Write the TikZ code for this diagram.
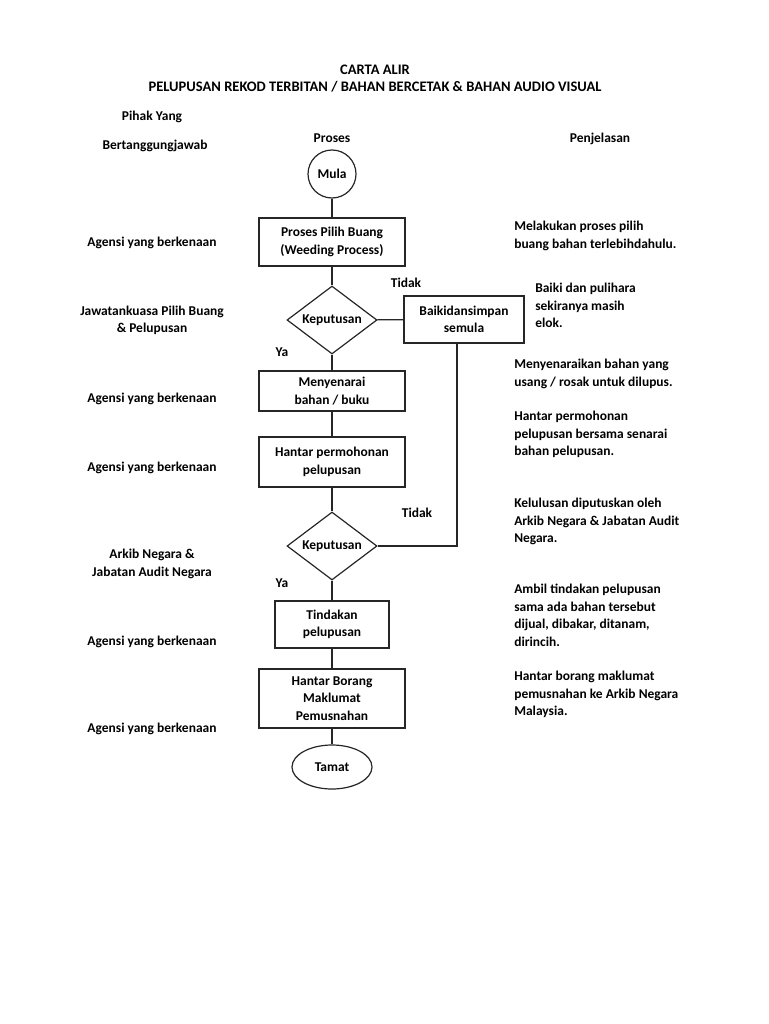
\documentclass[tikz,border=0pt]{standalone}
\usepackage{fontspec}
\setmainfont{Carlito}
\usetikzlibrary{shapes.geometric}
\begin{document}
\begin{tikzpicture}[x=0.75pt,y=-0.75pt,
  every node/.style={font=\fontsize{10.1pt}{13.1pt}\selectfont\bfseries, inner sep=0pt},
  title/.style={font=\fontsize{10.9pt}{13.1pt}\selectfont\bfseries},
  line/.style={draw=black!85, line width=0.9pt},
  procbox/.style={line, rectangle, minimum width=146*0.75pt, align=center},
  decision/.style={line, diamond, aspect=1.32, minimum width=90*0.75pt, minimum height=68*0.75pt, inner sep=0pt},
  lbl/.style={align=center},
  desc/.style={align=left, anchor=north west}]
\useasboundingbox (0,0) rectangle (768,1024);
% titles
\node[title] (t1) at (375,70) {CARTA ALIR};
\node[title] (t2) at (375,87) {PELUPUSAN REKOD TERBITAN / BAHAN BERCETAK \& BAHAN AUDIO VISUAL};
\node (h1) at (152,117) {Pihak Yang};
\node (h2) at (155,146) {Bertanggungjawab};
\node (h3) at (332,138) {Proses};
\node (h4) at (600,139) {Penjelasan};
% flow
\node[line, circle, minimum size=48*0.75pt] (mula) at (332,174) {Mula};
\node[procbox, minimum height=48*0.75pt] (b1) at (332,242) {Proses Pilih Buang\\(Weeding Process)};
\node[decision] (d1) at (332,320) {Keputusan};
\node[line, rectangle, minimum width=120*0.75pt, minimum height=47*0.75pt, align=center] (baiki) at (464,319.5) {Baikidansimpan\\semula};
\node[procbox, minimum height=40*0.75pt] (b2) at (332,391) {Menyenarai\\bahan / buku};
\node[procbox, minimum height=50*0.75pt] (b3) at (332,462) {Hantar permohonan\\pelupusan};
\node[decision] (d2) at (332,546) {Keputusan};
\node[line, rectangle, minimum width=114*0.75pt, minimum height=47*0.75pt, align=center] (b4) at (332,624.5) {Tindakan\\pelupusan};
\node[procbox, minimum height=59*0.75pt] (b5) at (332,698.5) {Hantar Borang\\Maklumat\\Pemusnahan};
\node[line, ellipse, minimum width=80*0.75pt, minimum height=44*0.75pt] (tamat) at (332,767) {Tamat};
\coordinate (c1) at (457,546);
% connectors
\draw[line] (mula) -- (b1);
\draw[line] (b1) -- (d1);
\draw[line] (d1) -- (baiki);
\draw[line] (d1) -- (b2);
\draw[line] (b2) -- (b3);
\draw[line] (b3) -- (d2);
\draw[line] (d2.east) -- (c1) -- (baiki.south -| c1);
\draw[line] (d2) -- (b4);
\draw[line] (b4) -- (b5);
\draw[line] (b5) -- (tamat);
% connector labels
\node (tidak1) at (406,283) {Tidak};
\node (ya1) at (282,352) {Ya};
\node (tidak2) at (417,513) {Tidak};
\node (ya2) at (282,583) {Ya};
% left column
\node[lbl] (l1) at (152,243) {Agensi yang berkenaan};
\node[lbl] (l2) at (152,320.5) {Jawatankuasa Pilih Buang\\\& Pelupusan};
\node[lbl] (l3) at (152,399) {Agensi yang berkenaan};
\node[lbl] (l4) at (152,468) {Agensi yang berkenaan};
\node[lbl] (l5) at (152,564) {Arkib Negara \&\\Jabatan Audit Negara};
\node[lbl] (l6) at (152,642) {Agensi yang berkenaan};
\node[lbl] (l7) at (152,729) {Agensi yang berkenaan};
% right column
\node[desc] (r1) at (514,221) {Melakukan proses pilih\\buang bahan terlebihdahulu.};
\node[desc] (r2) at (535,283) {Baiki dan pulihara\\sekiranya masih\\elok.};
\node[desc] (r3) at (514,359) {Menyenaraikan bahan yang\\usang / rosak untuk dilupus.};
\node[desc] (r4) at (514,411) {Hantar permohonan\\pelupusan bersama senarai\\bahan pelupusan.};
\node[desc] (r5) at (514,498) {Kelulusan diputuskan oleh\\Arkib Negara \& Jabatan Audit\\Negara.};
\node[desc] (r6) at (514,584) {Ambil tindakan pelupusan\\sama ada bahan tersebut\\dijual, dibakar, ditanam,\\dirincih.};
\node[desc] (r7) at (514,671) {Hantar borang maklumat\\pemusnahan ke Arkib Negara\\Malaysia.};
\end{tikzpicture}
\end{document}
